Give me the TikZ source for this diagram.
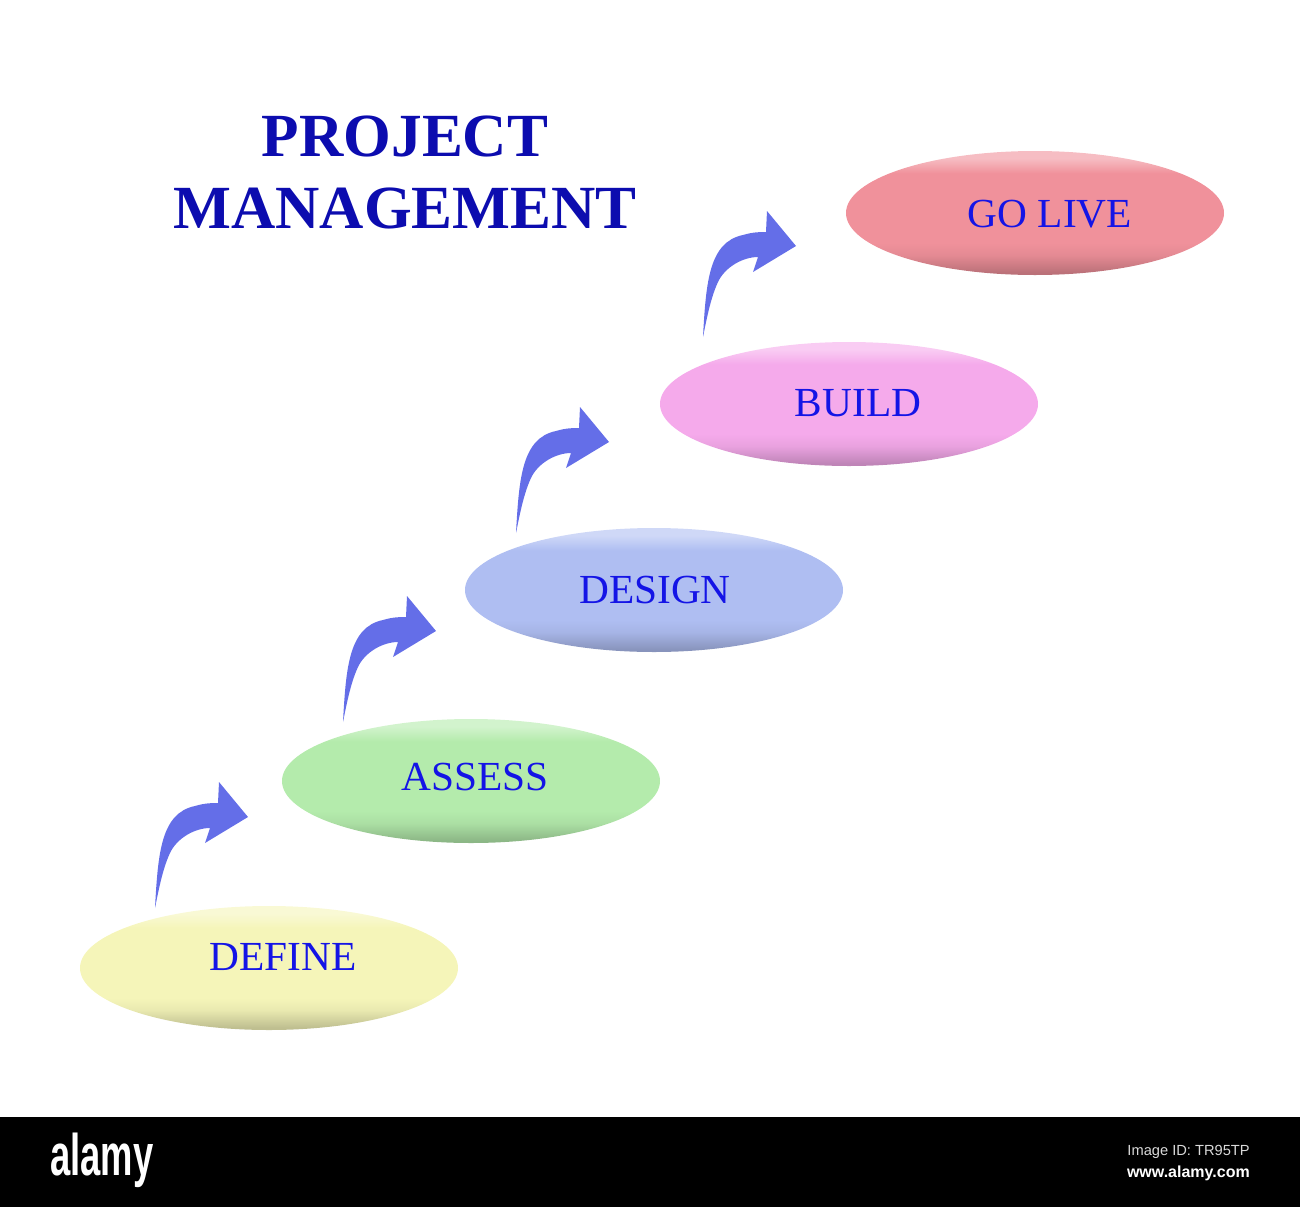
\documentclass[tikz,border=0pt]{standalone}
\usepackage{fontspec}
\setmainfont{Liberation Serif}
\newfontfamily\wmfont{Liberation Sans}
\usetikzlibrary{shapes.geometric}
\definecolor{titleblue}{RGB}{12,12,175}
\definecolor{labelblue}{RGB}{20,20,230}
\definecolor{arrowblue}{RGB}{100,110,232}
\definecolor{defcol}{RGB}{245,245,185}
\definecolor{asscol}{RGB}{180,235,172}
\definecolor{descol}{RGB}{175,190,242}
\definecolor{bldcol}{RGB}{245,170,235}
\definecolor{livcol}{RGB}{240,145,155}

% shading for the ellipses: darker rim below, highlight on top
\newcommand\stepshade[2]{%
  \pgfdeclareverticalshading{#1}{100bp}{color(0bp)=(#2!72!black); color(26bp)=(#2!78!black);
    color(33bp)=(#2!95!black); color(38bp)=(#2); color(66bp)=(#2); color(72bp)=(#2!60!white);
    color(100bp)=(#2!60!white)}}
\stepshade{defshade}{defcol}
\stepshade{assshade}{asscol}
\stepshade{desshade}{descol}
\stepshade{bldshade}{bldcol}
\stepshade{livshade}{livcol}

\tikzset{
  stepbox/.style={ellipse, draw=none, minimum width=283.5pt, minimum height=93pt, shading=#1},
  steplabel/.style={inner sep=0pt, text=labelblue, font=\fontsize{31}{31}\selectfont},
  titletext/.style={inner sep=0pt, text=titleblue, font=\fontsize{46}{46}\selectfont\bfseries},
  steparrow/.pic={
    \fill[arrowblue] (0,0) .. controls (3,55) and (6,95) .. (40,102)
      .. controls (50,105) and (57,105) .. (63,105)
      -- (64,126) -- (93,91) -- (50,65) -- (55,80)
      .. controls (40,80) and (22,70) .. (15,55)
      .. controls (8,40) and (4,20) .. (0,0) -- cycle;
  }
}

\begin{document}
\begin{tikzpicture}[x=0.75pt,y=0.75pt,yscale=-1,xscale=1]
\useasboundingbox (0,0) rectangle (1300,1207);

%Title
\node[titletext] (title1) at (405,136) {PROJECT};
\node[titletext] (title2) at (405,208) {MANAGEMENT};

%Shape: Ellipses
\node[stepbox=defshade] (define) at (269,968) {};
\node[stepbox=assshade] (assess) at (471,781) {};
\node[stepbox=desshade] (design) at (654,590) {};
\node[stepbox=bldshade] (build) at (849,404) {};
\node[stepbox=livshade] (golive) at (1035,213) {};

% Text Node
\node[steplabel] (tdefine) at (283,957) {DEFINE};
\node[steplabel] (tassess) at (475,777) {ASSESS};
\node[steplabel] (tdesign) at (655,590) {DESIGN};
\node[steplabel] (tbuild) at (858,403) {BUILD};
\node[steplabel] (tgolive) at (1050,214) {GO LIVE};

%Arrows
\coordinate (a1) at (155,908);
\coordinate (a2) at (343,722);
\coordinate (a3) at (516,533);
\coordinate (a4) at (703,337);
\foreach \a in {a1,a2,a3,a4}
  \pic at (\a) {steparrow};

%Bottom bar
\fill[black] (0,1117) rectangle (1300,1207);
\node[inner sep=0pt, anchor=west, text=white, xscale=0.62,
  font=\wmfont\fontsize{44}{44}\selectfont\bfseries] (wmlogo) at (50,1160) {alamy};
\node[inner sep=0pt, anchor=east, text=white!85!black,
  font=\wmfont\fontsize{11}{11}\selectfont] (wmid) at (1250,1152) {Image ID: TR95TP};
\node[inner sep=0pt, anchor=east, text=white,
  font=\wmfont\fontsize{12}{12}\selectfont\bfseries] (wmurl) at (1250,1173) {www.alamy.com};

\end{tikzpicture}
\end{document}
